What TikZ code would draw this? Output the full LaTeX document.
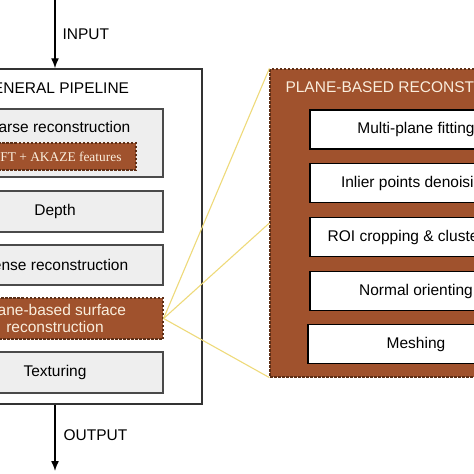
\documentclass[tikz,border=0pt]{standalone}
\usepackage{fontspec}
\setmainfont{Liberation Sans}
\newfontfamily\featfont{Liberation Serif}
\usetikzlibrary{arrows.meta}
\definecolor{brownfill}{HTML}{A0522D}
\definecolor{browndash}{HTML}{5C2E16}
\definecolor{cream}{HTML}{FAEEDD}
\definecolor{grayfill}{HTML}{EEEEEE}
\definecolor{grayline}{HTML}{4A4A4A}
\definecolor{outline}{HTML}{333333}
\definecolor{yellowline}{HTML}{EEDA7A}
\tikzset{
  txt/.style={font=\fontsize{15.5}{17.5}\selectfont},
  graybox/.style={txt, draw=grayline, line width=1.6pt, fill=grayfill, minimum width=216pt, inner sep=0pt},
  brownbox/.style={txt, draw=browndash, line width=1.2pt, dash pattern=on 2.5pt off 1.5pt, fill=brownfill, text=cream, inner sep=0pt},
  whitebox/.style={txt, draw=black, line width=1.5pt, fill=white, minimum width=212pt, minimum height=39pt, inner sep=0pt},
  frame/.style={draw=outline, line width=1.5pt, fill=white, inner sep=0pt},
  flow/.style={line width=1.4pt, -{Latex[length=10pt,width=8pt]}},
  zoomline/.style={draw=yellowline, line width=1.1pt},
}
\begin{document}
\begin{tikzpicture}[x=1pt,y=-1pt]
\clip (0,0) rectangle (474,474);
% general pipeline frame
\node[frame, minimum width=294pt, minimum height=335pt] (general) at (55,236.5) {};
\node[txt, anchor=center] (gtitle) at (55,88) {GENERAL PIPELINE};
% coarse
\node[graybox, minimum height=68pt] (coarse) at (55,143) {};
\node[txt] (coarsetxt) at (55,128) {Sparse reconstruction};
\node[brownbox, minimum width=162pt, minimum height=27pt, font=\featfont\fontsize{13.4}{15}\selectfont] (feat) at (55,156.5) {SIFT + AKAZE features};
\node[graybox, minimum height=41pt] (depth) at (55,211.5) {Depth};
\node[graybox, minimum height=40pt] (dense) at (55,265) {Dense reconstruction};
\node[brownbox, minimum width=216pt, minimum height=41pt, align=center] (plane) at (55,318.5) {Plane-based surface\\reconstruction};
\node[graybox, minimum height=41pt] (textur) at (55,372.5) {Texturing};
% input / output
\coordinate (inp) at (55,0);
\coordinate (outp) at (55,471);
\draw[flow] (inp) -- (general.north);
\draw[flow] (general.south) -- (outp);
\node[txt, anchor=west] (inlabel) at (59,34) {INPUT};
\node[txt, anchor=west] (outlabel) at (60,435) {OUTPUT};
% plane-based reconstruction panel
\node[brownbox, minimum width=292pt, minimum height=308pt] (pbr) at (416,223) {};
\node[txt, text=cream, anchor=west] (pbrtitle) at (282,87.5) {PLANE-BASED RECONSTRUCTION};
\node[whitebox] (fit) at (416,129.5) {Multi-plane fitting};
\node[whitebox] (denoise) at (416,183) {Inlier points denoising};
\node[whitebox] (roi) at (416,237) {ROI cropping \& clustering};
\node[whitebox] (normal) at (416,291) {Normal orienting};
\node[whitebox, minimum width=216pt] (mesh) at (416,344) {Meshing};
% zoom lines
\draw[zoomline] (plane.east) -- (pbr.north west);
\draw[zoomline] (plane.east) -- (pbr.west);
\draw[zoomline] (plane.east) -- (pbr.south west);
\end{tikzpicture}
\end{document}
